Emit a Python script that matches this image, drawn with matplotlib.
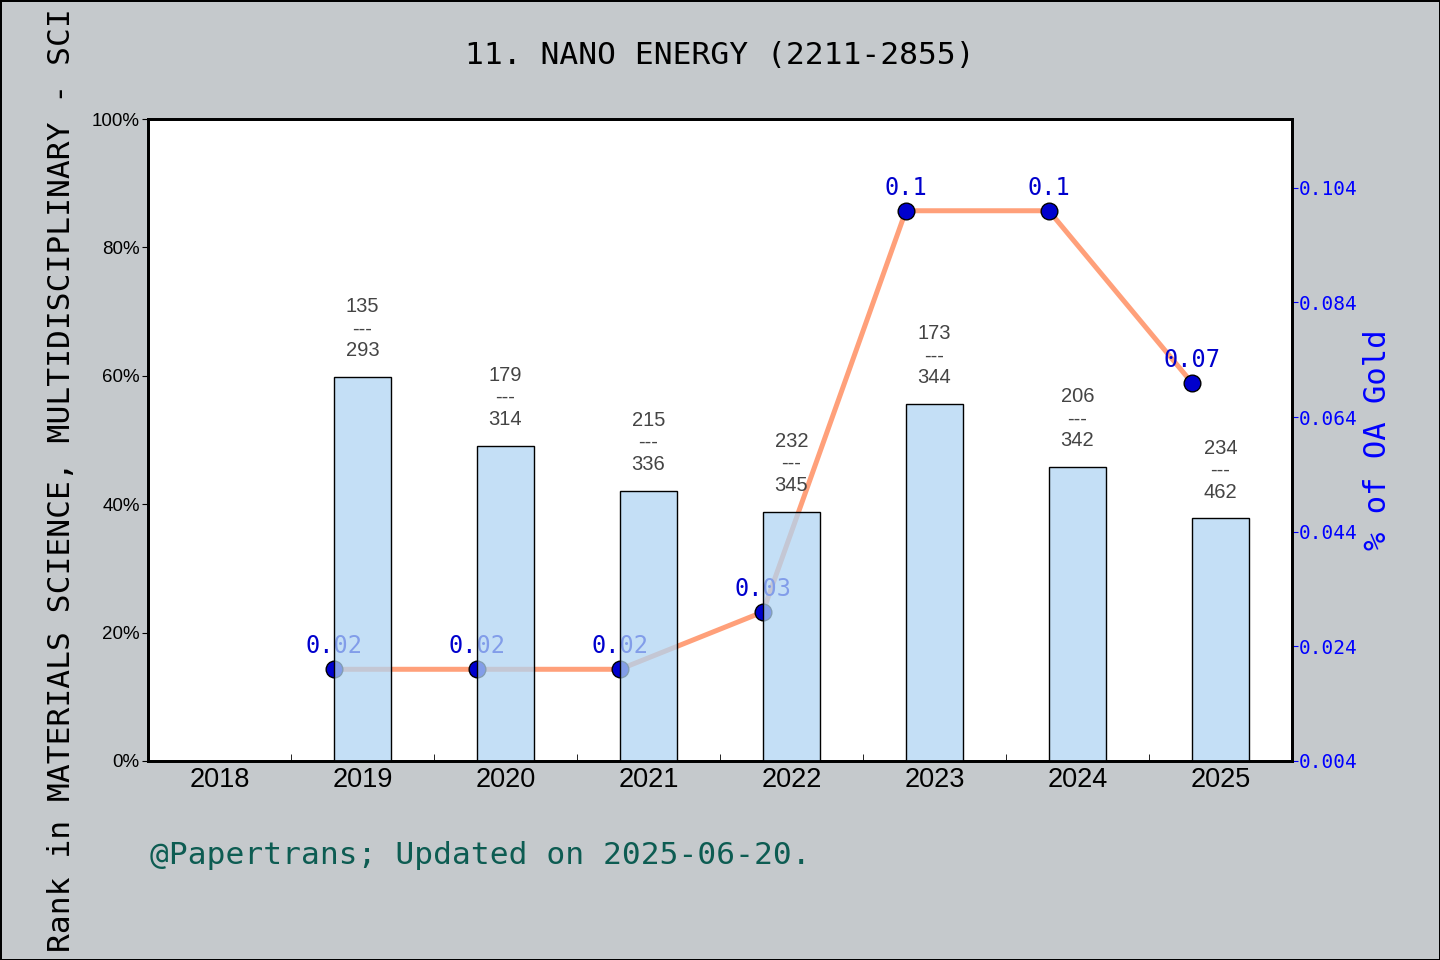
import matplotlib
matplotlib.use("Agg")
import matplotlib.pyplot as plt
import numpy as np

# data
years = ['2018', '2019', '2020', '2021', '2022', '2023', '2024', '2025']
rank_share = [np.nan, 0.598, 0.491, 0.421, 0.388, 0.556, 0.458, 0.378]
ranks = ['', '135', '179', '215', '232', '173', '206', '234']
totals = ['', '293', '314', '336', '345', '344', '342', '462']
oa_gold = [np.nan, 0.02, 0.02, 0.02, 0.03, 0.1, 0.1, 0.07]

MONO = 'DejaVu Sans Mono'
SANS = 'Liberation Sans'
BG = '#c5c9cc'

fig = plt.figure(figsize=(14.4, 9.6), dpi=100, facecolor=BG,
                 edgecolor='black', linewidth=2)
ax = fig.add_axes([0.1028, 0.2073, 0.7944, 0.6687])
ax2 = ax.twinx()

x = np.arange(len(years))
width = 0.4

# line on the twin axis, drawn behind the semi-transparent bars
ax2.plot(x - width / 2, oa_gold, color='lightsalmon', lw=3.6, zorder=2)
ax2.plot(x - width / 2, oa_gold, 'o', ms=12, mfc='#0000cd', mec='black',
         mew=1, zorder=3)
for xi, v in zip(x, oa_gold):
    if np.isnan(v):
        continue
    ax2.annotate(f'{v:g}', xy=(xi - width / 2, v), xytext=(0, 8),
                 textcoords='offset points', ha='center', va='bottom',
                 fontsize=17, family=MONO, color='#0000cd', zorder=3)

ax2.set_ylim(0.004, 0.116)
ax2.set_yticks([0.004, 0.024, 0.044, 0.064, 0.084, 0.104])
ax2.set_yticklabels(['0.004', '0.024', '0.044', '0.064', '0.084', '0.104'],
                    family=MONO, fontsize=14, color='blue')
ax2.tick_params(axis='y', colors='blue', labelcolor='blue', length=4, pad=1)
ax2.set_ylabel('% of OA Gold', family=MONO, fontsize=22, color='blue',
               labelpad=4)
ax2.patch.set_visible(True)
ax2.patch.set_facecolor('white')

# bars on the primary axis, in front
ax.set_zorder(ax2.get_zorder() + 1)
ax.patch.set_visible(False)
ax.bar(x, rank_share, width=width, color='#b0d5f4', alpha=0.74,
       edgecolor='none', zorder=2)
ax.bar(x, rank_share, width=width, facecolor='none', edgecolor='black',
       lw=1, zorder=3)
for xi, h, r, t in zip(x, rank_share, ranks, totals):
    if np.isnan(h):
        continue
    ax.annotate(f'{r}\n---\n{t}', xy=(xi, h), xytext=(0, 12),
                textcoords='offset points', ha='center', va='bottom',
                fontsize=14.5, family=SANS, color='#444444', linespacing=1.2)

ax.set_xlim(-0.5, 7.5)
ax.set_ylim(0, 1)
ax.set_xticks(x)
ax.set_xticklabels(years, family=SANS, fontsize=19.5)
ax.set_xticks(x + 0.5, minor=True)
ax.tick_params(axis='x', which='major', length=0, pad=4)
ax.tick_params(axis='x', which='minor', direction='in', length=5)
ax.set_yticks([0, 0.2, 0.4, 0.6, 0.8, 1.0])
ax.set_yticklabels(['0%', '20%', '40%', '60%', '80%', '100%'],
                   family=SANS, fontsize=13.5)
ax.tick_params(axis='y', length=4, pad=2)

for a in (ax, ax2):
    for s in a.spines.values():
        s.set_linewidth(2)

fig.text(0.5, 0.9417, '11. NANO ENERGY (2211-2855)', family=MONO,
         fontsize=22.5, ha='center', va='center')
fig.text(0.043, 0.5, 'Rank in MATERIALS SCIENCE, MULTIDISCIPLINARY - SCI',
         family=MONO, fontsize=22.5, rotation=90, ha='center', va='center')
fig.text(0.104, 0.109, '@Papertrans; Updated on 2025-06-20.', family=MONO,
         fontsize=22.5, color='#0d5c52', ha='left', va='center')

fig.savefig('out.png', dpi=100, facecolor=BG, edgecolor='black')
